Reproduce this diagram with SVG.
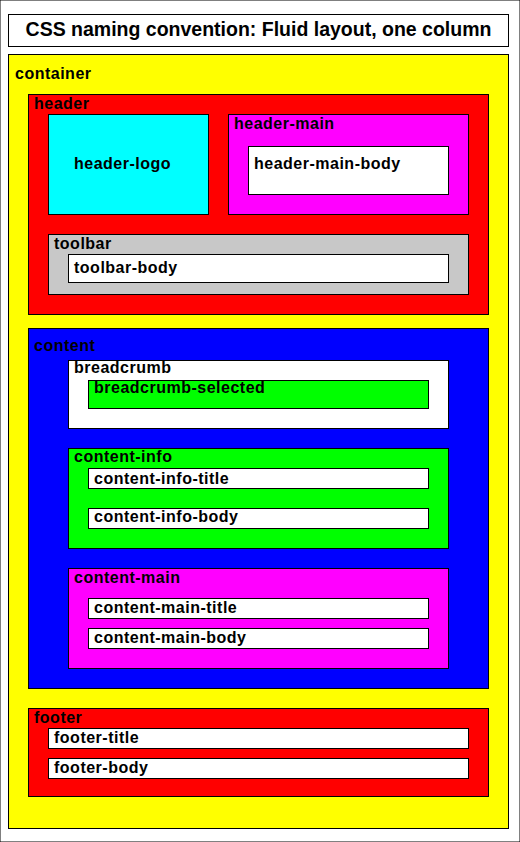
<svg xmlns="http://www.w3.org/2000/svg" width="520" height="842" viewBox="0 0 520 842">
<style>
rect{stroke:#000;stroke-width:1}
text{font-family:"Liberation Sans",Arial,sans-serif;font-weight:bold;font-size:16px;letter-spacing:0.5px;fill:#000}
.title{font-size:19.5px;letter-spacing:0}
.w{fill:#fff}.y{fill:#ffff00}.r{fill:#ff0000}.c{fill:#00ffff}.m{fill:#ff00ff}.g{fill:#c8c8c8}.b{fill:#0000ff}.gr{fill:#00ff00}
</style>
<rect x="0" y="0" width="520" height="842" fill="#fff" stroke="none"/>
<g id="title"><rect class="w" x="8.5" y="14.5" width="500" height="32"/><text class="title" x="258.5" y="36" text-anchor="middle">CSS naming convention: Fluid layout, one column</text></g>
<g id="container"><rect class="y" x="8.5" y="54.5" width="500" height="774"/><text x="15" y="79">container</text></g>
<g id="header"><rect class="r" x="28.5" y="94.5" width="460" height="220"/><text x="34" y="109">header</text></g>
<g id="header-logo"><rect class="c" x="48.5" y="114.5" width="160" height="100"/><text x="74" y="169">header-logo</text></g>
<g id="header-main"><rect class="m" x="228.5" y="114.5" width="240" height="100"/><text x="234" y="129">header-main</text></g>
<g id="header-main-body"><rect class="w" x="248.5" y="146.5" width="200" height="48"/><text x="254" y="169">header-main-body</text></g>
<g id="toolbar"><rect class="g" x="48.5" y="234.5" width="420" height="60"/><text x="54" y="249">toolbar</text></g>
<g id="toolbar-body"><rect class="w" x="68.5" y="254.5" width="380" height="28"/><text x="74" y="273">toolbar-body</text></g>
<g id="content"><rect class="b" x="28.5" y="328.5" width="460" height="360"/><text x="34" y="351">content</text></g>
<g id="breadcrumb"><rect class="w" x="68.5" y="360.5" width="380" height="68"/><text x="74" y="373">breadcrumb</text></g>
<g id="breadcrumb-selected"><rect class="gr" x="88.5" y="380.5" width="340" height="28"/><text x="94" y="393">breadcrumb-selected</text></g>
<g id="content-info"><rect class="gr" x="68.5" y="448.5" width="380" height="100"/><text x="74" y="462">content-info</text></g>
<g id="content-info-title"><rect class="w" x="88.5" y="468.5" width="340" height="20"/><text x="94" y="484">content-info-title</text></g>
<g id="content-info-body"><rect class="w" x="88.5" y="508.5" width="340" height="20"/><text x="94" y="522">content-info-body</text></g>
<g id="content-main"><rect class="m" x="68.5" y="568.5" width="380" height="100"/><text x="74" y="583">content-main</text></g>
<g id="content-main-title"><rect class="w" x="88.5" y="598.5" width="340" height="20"/><text x="94" y="613">content-main-title</text></g>
<g id="content-main-body"><rect class="w" x="88.5" y="628.5" width="340" height="20"/><text x="94" y="643">content-main-body</text></g>
<g id="footer"><rect class="r" x="28.5" y="708.5" width="460" height="88"/><text x="34" y="723">footer</text></g>
<g id="footer-title"><rect class="w" x="48.5" y="728.5" width="420" height="20"/><text x="54" y="743">footer-title</text></g>
<g id="footer-body"><rect class="w" x="48.5" y="758.5" width="420" height="20"/><text x="54" y="773">footer-body</text></g>
<g id="connectors"></g>
</svg>
